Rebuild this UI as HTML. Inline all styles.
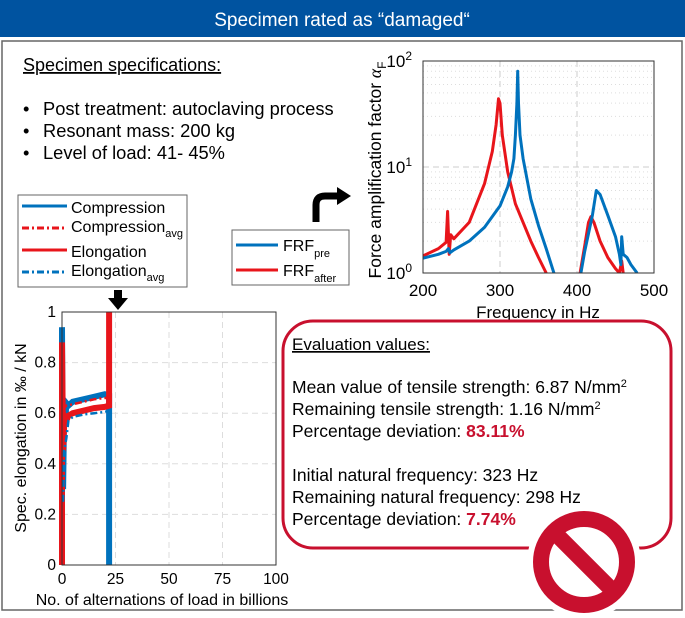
<!DOCTYPE html>
<html><head><meta charset="utf-8"><style>
html,body{margin:0;padding:0;background:#fff;}
body{width:685px;height:613px;overflow:hidden;font-family:"Liberation Sans",Arial,sans-serif;}
</style></head><body>
<svg width="685" height="613" viewBox="0 0 685 613" xmlns="http://www.w3.org/2000/svg" font-family="Liberation Sans, Arial, sans-serif">
<rect x="0" y="0" width="685" height="37" fill="#0053a0"/>
<text x="342" y="26" fill="#fff" font-size="19" text-anchor="middle">Specimen rated as “damaged“</text>
<rect x="2" y="41" width="680" height="569" fill="none" stroke="#666" stroke-width="1.5"/>

<text x="23" y="71" font-size="18" text-decoration="underline">Specimen specifications:</text>
<g font-size="18.3">
<text x="23" y="115">•</text><text x="43" y="115">Post treatment: autoclaving process</text>
<text x="23" y="137">•</text><text x="43" y="137">Resonant mass: 200 kg</text>
<text x="23" y="159">•</text><text x="43" y="159">Level of load: 41- 45%</text>
</g>

<g>
<rect x="18" y="195" width="169" height="92" fill="#fff" stroke="#666"/>
<line x1="22" y1="206" x2="67" y2="206" stroke="#0072BD" stroke-width="3"/>
<text x="71" y="213" font-size="16">Compression</text>
<line x1="22" y1="228" x2="67" y2="228" stroke="#e8151b" stroke-width="3" stroke-dasharray="7,3,2,3"/>
<text x="71" y="232" font-size="16">Compression<tspan font-size="11" dy="5">avg</tspan></text>
<line x1="22" y1="250" x2="67" y2="250" stroke="#e8151b" stroke-width="3"/>
<text x="71" y="257" font-size="16">Elongation</text>
<line x1="22" y1="272" x2="67" y2="272" stroke="#0072BD" stroke-width="3" stroke-dasharray="7,3,2,3"/>
<text x="71" y="276" font-size="16">Elongation<tspan font-size="11" dy="5">avg</tspan></text>
</g>
<g>
<rect x="232" y="230" width="117" height="55" fill="#fff" stroke="#666"/>
<line x1="236" y1="245" x2="278" y2="245" stroke="#0072BD" stroke-width="3"/>
<text x="283" y="251" font-size="16">FRF<tspan font-size="11" dy="6">pre</tspan></text>
<line x1="236" y1="270" x2="278" y2="270" stroke="#e8151b" stroke-width="3"/>
<text x="283" y="276" font-size="16">FRF<tspan font-size="11" dy="6">after</tspan></text>
</g>
<path d="M316 222 L316 205 Q316 196 325 196 L338 196" fill="none" stroke="#000" stroke-width="7"/>
<polygon points="337,187 351,196 337,205" fill="#000"/>
<g><rect x="114" y="290" width="8" height="9" fill="#000"/><polygon points="108,298 128,298 118,310" fill="#000"/></g>

<g id="left"></g>
<g id="right"></g>

<g>
<rect x="283" y="321" width="388" height="227" rx="30" fill="#fff" stroke="#c8102e" stroke-width="3"/>
<text x="292" y="350" font-size="17" text-decoration="underline">Evaluation values:</text>
<g font-size="17.5">
<text x="292" y="393">Mean value of tensile strength: 6.87 N/mm<tspan font-size="11" dy="-6">2</tspan></text>
<text x="292" y="415">Remaining tensile strength: 1.16 N/mm<tspan font-size="11" dy="-6">2</tspan></text>
<text x="292" y="437">Percentage deviation: <tspan fill="#c8102e" font-weight="bold">83.11%</tspan></text>
<text x="292" y="481">Initial natural frequency: 323 Hz</text>
<text x="292" y="503">Remaining natural frequency: 298 Hz</text>
<text x="292" y="525">Percentage deviation: <tspan fill="#c8102e" font-weight="bold">7.74%</tspan></text>
</g>
</g>
<g>
<circle cx="584" cy="562" r="57" fill="#fff"/>
<circle cx="584" cy="562" r="43" fill="none" stroke="#c8102e" stroke-width="16"/>
<line x1="556" y1="534" x2="612" y2="590" stroke="#c8102e" stroke-width="16"/>
</g>
</svg>
<script>
const NS="http://www.w3.org/2000/svg";
// Left chart data
const compX=[0,0,0.3,0.5,1,1.5,2,3,5,10,15,20,22,22];
const compY=[0,0.94,0.5,0.3,0.6,0.55,0.64,0.63,0.645,0.655,0.665,0.675,0.67,0];
const elonX=[0,0,0.5,1,1.5,2,3,5,10,15,20,22,22];
const elonY=[0,0.88,0.45,0.55,0.58,0.57,0.59,0.6,0.61,0.62,0.625,0.63,1.0];
const compAvgX=[0.5,1,2,5,10,15,20,22,22];
const compAvgY=[0.55,0.62,0.63,0.635,0.645,0.655,0.66,0.66,1];
const elonAvgX=[0.5,1,2,3,5,10,15,20,22,22];
const elonAvgY=[0.25,0.45,0.5,0.57,0.585,0.595,0.6,0.605,0.61,0];
const leftXTicks=[0,25,50,75,100];
const leftYTicks=[0,0.2,0.4,0.6,0.8,1];
// Right chart data
const preF=[200,220,230,233,235,240,260,280,300,310,315,318,320,322,323,324,326,330,340,350,360,370,null,405,410,420,425,430,440,450,455,457,458,460,465,470,478];
const preA=[1.38,1.5,1.6,1.7,1.55,1.65,2.0,2.7,4.3,6.5,9,12,20,40,80,40,20,12,5,2.8,1.7,1.0,null,1.0,1.6,3.5,6,5.5,3.5,2.2,1.5,1.2,2.2,1.5,1.4,1.2,1.0];
const aftF=[200,220,230,232,234,236,240,260,280,290,295,298,300,303,310,320,330,340,350,360,null,404,410,415,418,422,430,440,450,455,458,460];
const aftA=[1.45,1.7,1.95,3.8,1.5,2.3,2.1,3.0,7,14,25,44,40,20,9,4.5,3,2,1.4,1.0,null,1.0,1.8,3.0,3.4,3.0,2.0,1.4,1.1,1.0,1.3,1.0];
const rightXTicks=[200,300,400,500];
const rightYTicks=[0,1,2];

function mk(tag,attrs,parent){const e=document.createElementNS(NS,tag);for(const k in attrs)e.setAttribute(k,attrs[k]);parent.appendChild(e);return e;}

// Left chart
const L=document.getElementById('left');
const lx=v=>62+v*(276-62)/100, ly=v=>565-v*(565-312);
mk('rect',{x:62,y:312,width:214,height:253,fill:'#fff'},L);
leftXTicks.slice(1,-1).forEach(t=>{const g=mk('line',{x1:lx(t),y1:312,x2:lx(t),y2:565,stroke:'#ddd','stroke-dasharray':'6,4'},L);

});
leftYTicks.slice(1,-1).forEach(t=>{const g=mk('line',{x1:62,y1:ly(t),x2:276,y2:ly(t),stroke:'#ddd','stroke-dasharray':'6,4'},L);

});
function lpath(X,Y,col,w,dash,name){const d=X.map((x,i)=>(i?'L':'M')+lx(x).toFixed(1)+' '+ly(Y[i]).toFixed(1)).join(' ');
const p=mk('path',{d:d,fill:'none',stroke:col,'stroke-width':w},L);if(dash)p.setAttribute('stroke-dasharray',dash);

}
lpath(compX,compY,'#0072BD',6,null,'compression-line');
lpath(elonX,elonY,'#e8151b',6,null,'elongation-line');
lpath(compAvgX,compAvgY,'#e8151b',2.5,'7,3,2,3','compression-avg-line');
lpath(elonAvgX,elonAvgY,'#0072BD',2.5,'7,3,2,3','elongation-avg-line');
mk('rect',{x:62,y:312,width:214,height:253,fill:'none',stroke:'#333'},L);
leftXTicks.forEach(t=>{const e=mk('text',{x:lx(t),y:584,'font-size':15.5,'text-anchor':'middle'},L);e.textContent=t;

});
leftYTicks.forEach(t=>{const e=mk('text',{x:56,y:ly(t)+5,'font-size':15.5,'text-anchor':'end'},L);e.textContent=t;

});
let t1=mk('text',{x:162,y:605,'font-size':16,'text-anchor':'middle'},L);t1.textContent='No. of alternations of load in billions';


let t2=mk('text',{x:0,y:0,'font-size':16,'text-anchor':'middle',transform:'translate(26,438) rotate(-90)'},L);t2.textContent='Spec. elongation in ‰ / kN';



// Right chart
const R=document.getElementById('right');
const rx=v=>423+(v-200)*(654-423)/300, ry=v=>273-Math.log10(v)*(273-61)/2;
mk('rect',{x:423,y:61,width:231,height:212,fill:'#fff'},R);
[2,3,4,5,6,7,8,9,20,30,40,50,60,70,80,90].forEach(v=>{const g=mk('line',{x1:423,y1:ry(v),x2:654,y2:ry(v),stroke:'#ddd','stroke-dasharray':'1,3'},R);

});
[300,400].forEach(t=>{const g=mk('line',{x1:rx(t),y1:61,x2:rx(t),y2:273,stroke:'#ccc','stroke-dasharray':'6,4'},R);

});
{const g=mk('line',{x1:423,y1:ry(10),x2:654,y2:ry(10),stroke:'#ccc','stroke-dasharray':'6,4'},R);

}
const clip=mk('clipPath',{id:'rc'},R);mk('rect',{x:423,y:61,width:231,height:212},clip);
function rpath(F,A,col,name){let d='',start=true;F.forEach((f,i)=>{if(f===null){start=true;return;}d+=(start?'M':'L')+rx(f).toFixed(1)+' '+ry(A[i]).toFixed(1)+' ';start=false;});
const p=mk('path',{d:d,fill:'none',stroke:col,'stroke-width':3,'clip-path':'url(#rc)','stroke-linejoin':'round'},R);

}
rpath(aftF,aftA,'#e8151b','frf-after-line');
rpath(preF,preA,'#0072BD','frf-pre-line');
mk('rect',{x:423,y:61,width:231,height:212,fill:'none',stroke:'#333'},R);
rightXTicks.forEach(t=>{const e=mk('text',{x:rx(t),y:296,'font-size':17,'text-anchor':'middle'},R);e.textContent=t;

});
rightYTicks.forEach(t=>{const e=mk('text',{x:412,y:ry(Math.pow(10,t))+6,'font-size':17,'text-anchor':'end'},R);e.innerHTML='10<tspan font-size="12" dy="-7">'+t+'</tspan>';

});
let t3=mk('text',{x:538,y:318,'font-size':17,'text-anchor':'middle'},R);t3.textContent='Frequency in Hz';


let t4=mk('text',{x:0,y:0,'font-size':17.5,'text-anchor':'middle',transform:'translate(381,170) rotate(-90)'},R);t4.innerHTML='Force amplification factor <tspan font-family="Liberation Serif" font-style="italic">α</tspan><tspan font-size="12" dy="5">F</tspan>';


</script>
</body></html>
